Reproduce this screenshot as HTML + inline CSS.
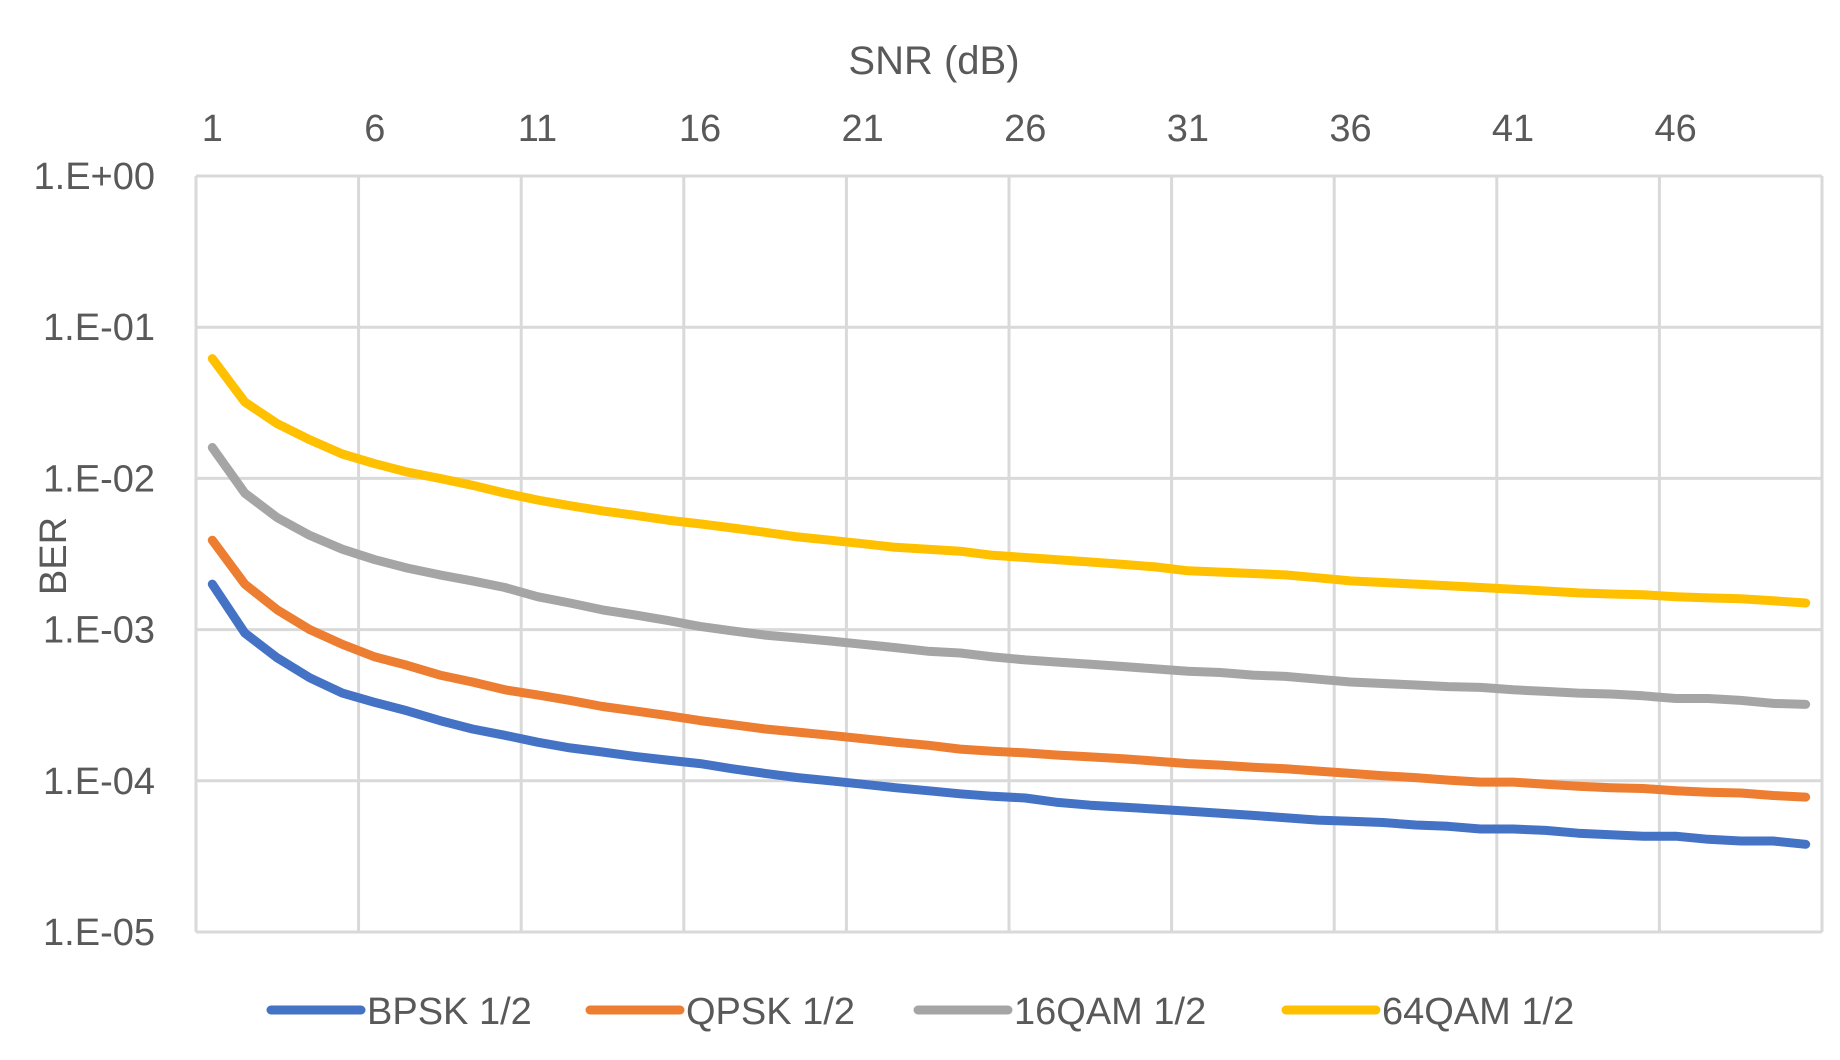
<!DOCTYPE html>
<html><head><meta charset="utf-8"><style>
html,body{margin:0;padding:0;background:#fff;}
svg{display:block;font-family:"Liberation Sans","Noto Sans CJK KR",sans-serif;}
</style></head><body>
<svg id="chart" width="1840" height="1060" viewBox="0 0 1840 1060" xmlns="http://www.w3.org/2000/svg">
<text x="934" y="74" font-size="40" fill="#595959" text-anchor="middle">SNR (dB)</text>
<text transform="translate(66,556) rotate(-90)" font-size="38" fill="#595959" text-anchor="middle">BER</text>
<g id="grid"></g><g id="series"></g><g id="labels"></g>
<g id="legend"></g>
</svg>
<script>
const categories = Array.from({length:50},(_,i)=>i+1);
const bpsk = [2.0e-3,9.5e-4,6.5e-4,4.8e-4,3.8e-4,3.3e-4,2.9e-4,2.5e-4,2.2e-4,2.0e-4,1.8e-4,1.65e-4,1.55e-4,1.45e-4,1.37e-4,1.3e-4,1.2e-4,1.12e-4,1.05e-4,1.0e-4,9.5e-5,9.0e-5,8.6e-5,8.2e-5,7.9e-5,7.7e-5,7.2e-5,6.9e-5,6.7e-5,6.5e-5,6.3e-5,6.1e-5,5.9e-5,5.7e-5,5.5e-5,5.4e-5,5.3e-5,5.1e-5,5.0e-5,4.8e-5,4.8e-5,4.7e-5,4.5e-5,4.4e-5,4.3e-5,4.3e-5,4.1e-5,4.0e-5,4.0e-5,3.8e-5];
const qpsk = [3.9e-3,2.0e-3,1.35e-3,1.0e-3,8.0e-4,6.6e-4,5.8e-4,5.0e-4,4.5e-4,4.0e-4,3.7e-4,3.4e-4,3.1e-4,2.9e-4,2.7e-4,2.5e-4,2.35e-4,2.2e-4,2.1e-4,2.0e-4,1.9e-4,1.8e-4,1.72e-4,1.62e-4,1.57e-4,1.53e-4,1.48e-4,1.44e-4,1.4e-4,1.35e-4,1.3e-4,1.27e-4,1.23e-4,1.2e-4,1.16e-4,1.12e-4,1.08e-4,1.05e-4,1.01e-4,9.8e-5,9.8e-5,9.5e-5,9.2e-5,9.0e-5,8.9e-5,8.6e-5,8.4e-5,8.3e-5,8.0e-5,7.8e-5];
const qam16 = [1.6e-2,8.0e-3,5.5e-3,4.2e-3,3.4e-3,2.9e-3,2.55e-3,2.3e-3,2.1e-3,1.9e-3,1.65e-3,1.5e-3,1.35e-3,1.25e-3,1.15e-3,1.05e-3,9.8e-4,9.2e-4,8.8e-4,8.4e-4,8.0e-4,7.6e-4,7.2e-4,7.0e-4,6.6e-4,6.3e-4,6.1e-4,5.9e-4,5.7e-4,5.5e-4,5.3e-4,5.2e-4,5.0e-4,4.9e-4,4.7e-4,4.5e-4,4.4e-4,4.3e-4,4.2e-4,4.15e-4,4.0e-4,3.9e-4,3.8e-4,3.75e-4,3.65e-4,3.5e-4,3.5e-4,3.4e-4,3.25e-4,3.2e-4];
const qam64 = [6.2e-2,3.2e-2,2.3e-2,1.8e-2,1.45e-2,1.25e-2,1.1e-2,1.0e-2,9.0e-3,8.0e-3,7.2e-3,6.6e-3,6.1e-3,5.7e-3,5.3e-3,5.0e-3,4.7e-3,4.4e-3,4.1e-3,3.9e-3,3.7e-3,3.5e-3,3.4e-3,3.3e-3,3.1e-3,3.0e-3,2.9e-3,2.8e-3,2.7e-3,2.6e-3,2.45e-3,2.4e-3,2.35e-3,2.3e-3,2.2e-3,2.1e-3,2.05e-3,2.0e-3,1.95e-3,1.9e-3,1.85e-3,1.8e-3,1.75e-3,1.72e-3,1.7e-3,1.65e-3,1.62e-3,1.6e-3,1.55e-3,1.5e-3];
const seriesNames = ["BPSK 1/2","QPSK 1/2","16QAM 1/2","64QAM 1/2"];
const yTickLabels = ["1.E+00","1.E-01","1.E-02","1.E-03","1.E-04","1.E-05"];
const yTickExps = [0,-1,-2,-3,-4,-5];

const NS="http://www.w3.org/2000/svg";
const L=196,R=1822,T=176,B=932;
const n=categories.length, cw=(R-L)/n;
const yMaxExp=0,yMinExp=-5;
function xPos(i){return L+(i+0.5)*cw;}
function yPos(v){return T+(yMaxExp-Math.log10(v))/(yMaxExp-yMinExp)*(B-T);}
function mk(tag,attrs,parent){const e=document.createElementNS(NS,tag);for(const k in attrs)e.setAttribute(k,attrs[k]);parent.appendChild(e);return e;}
const grid=document.getElementById('grid'),lab=document.getElementById('labels'),ser=document.getElementById('series'),leg=document.getElementById('legend');
yTickExps.forEach((e,i)=>{
  const y=yPos(Math.pow(10,e));
  const ln=mk('line',{x1:L,x2:R,y1:y,y2:y,stroke:'#d9d9d9','stroke-width':3},grid);
  
  
  const t=mk('text',{x:155,y:y+13,'font-size':38,fill:'#595959','text-anchor':'end'},lab);
  t.textContent=yTickLabels[i];
  
  
});
for(let i=0;i<=n;i+=5){
  const x=L+i*cw;
  const ln=mk('line',{x1:x,x2:x,y1:T,y2:B,stroke:'#d9d9d9','stroke-width':3},grid);
  
  
}
mk('line',{x1:R,x2:R,y1:T,y2:B,stroke:'#d9d9d9','stroke-width':3},grid);
categories.forEach((c,i)=>{
  if(i%5!==0)return;
  const t=mk('text',{x:xPos(i),y:141,'font-size':38,fill:'#595959','text-anchor':'middle'},lab);
  t.textContent=c;
  
  
});
const data=[bpsk,qpsk,qam16,qam64];
const colors=['#4472c4','#ed7d31','#a5a5a5','#ffc000'];
const keys=['bpsk','qpsk','16qam','64qam'];
data.forEach((arr,s)=>{
  const d=arr.map((v,i)=>(i?'L':'M')+xPos(i).toFixed(1)+' '+yPos(v).toFixed(1)).join(' ');
  const p=mk('path',{d:d,fill:'none',stroke:colors[s],'stroke-width':9,'stroke-linecap':'round','stroke-linejoin':'round'},ser);
  
  
});
const legX=[271,590,918,1286];
seriesNames.forEach((nm,s)=>{
  const g=mk('g',{},leg);
  
  
  mk('line',{x1:legX[s],x2:legX[s]+90,y1:1010,y2:1010,stroke:colors[s],'stroke-width':9,'stroke-linecap':'round'},g);
  const t=mk('text',{x:legX[s]+96,y:1024,'font-size':38,fill:'#595959'},g);
  t.textContent=nm;
});
</script>
</body></html>
